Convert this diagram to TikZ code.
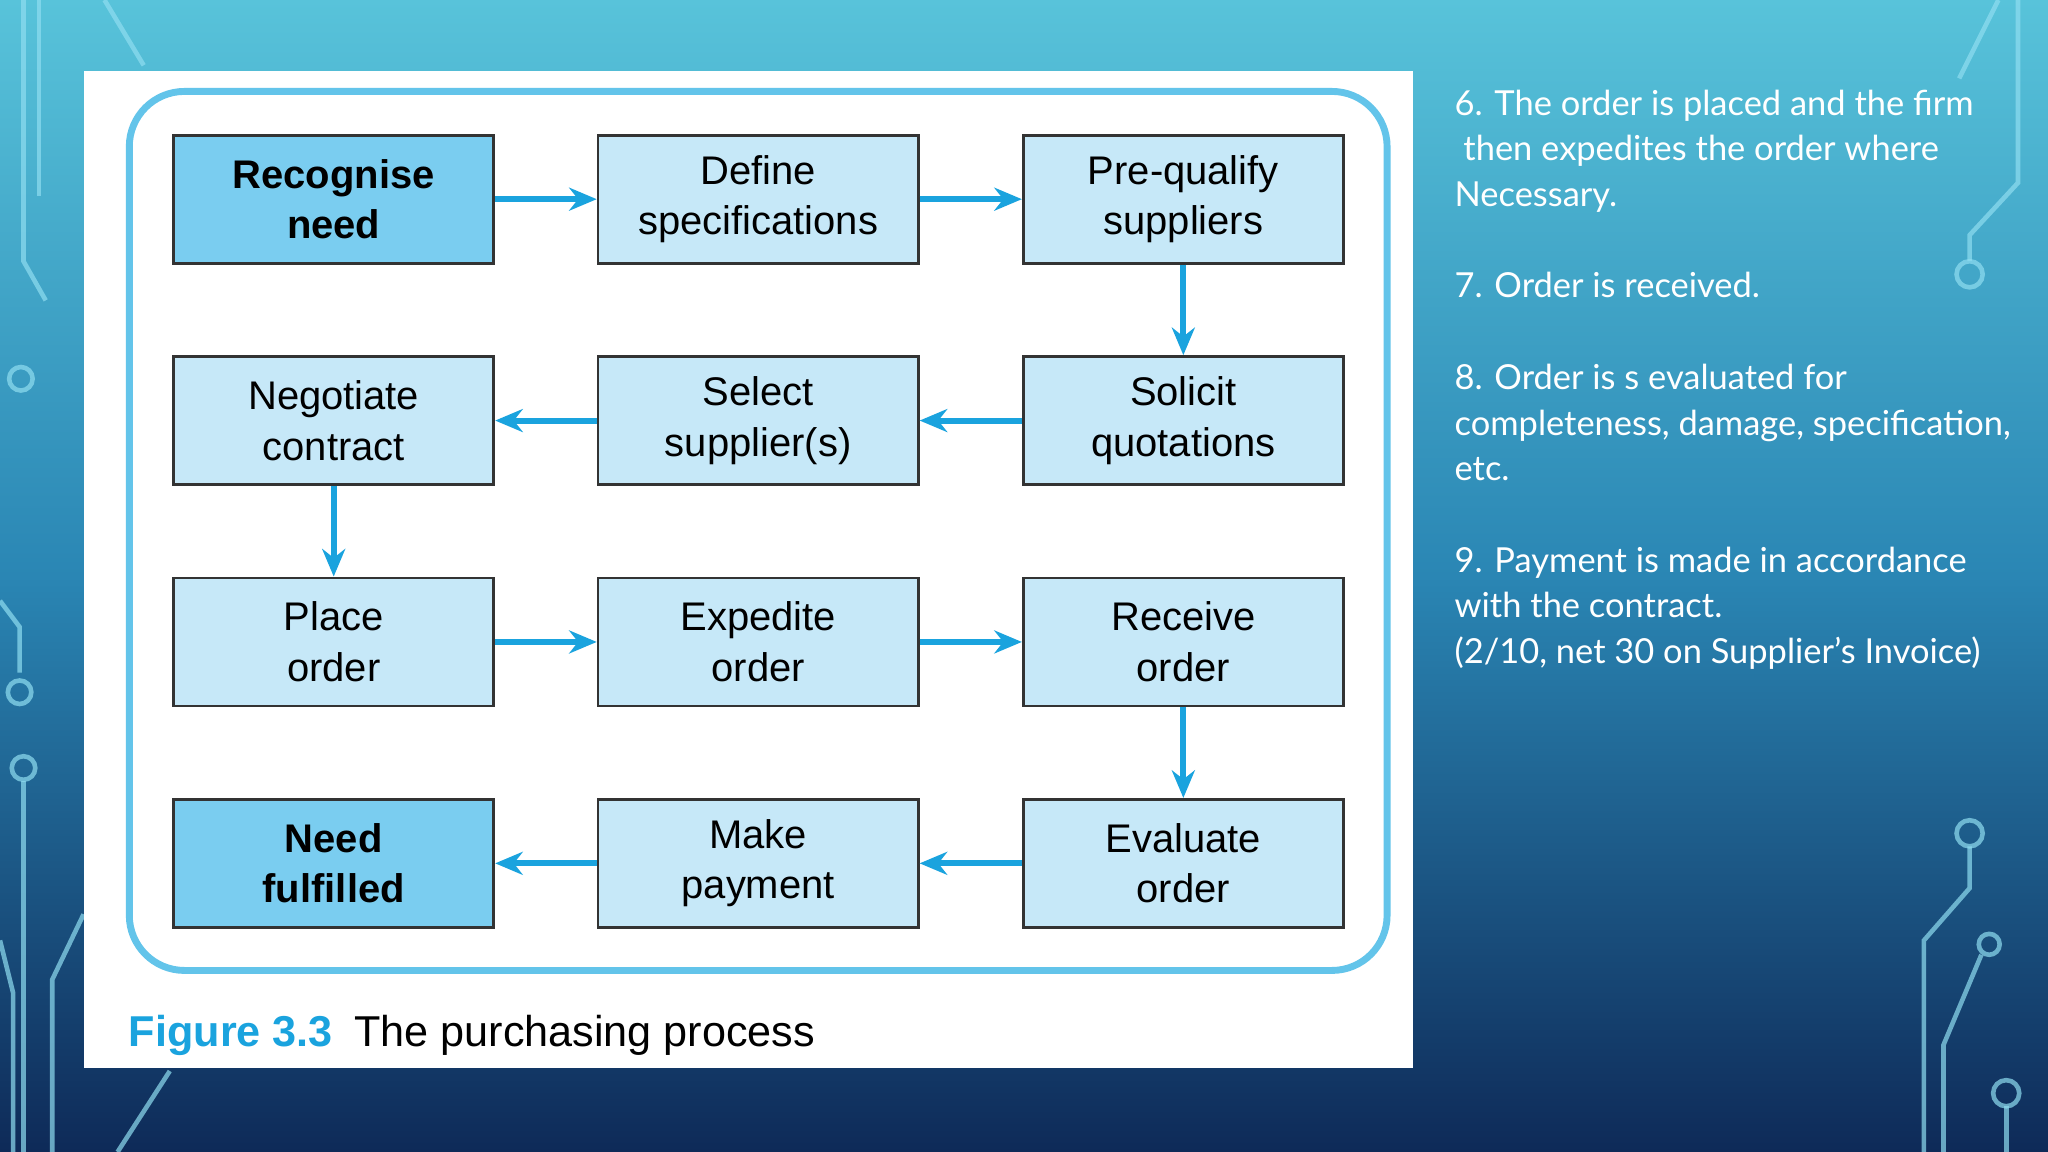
\documentclass[tikz,border=0pt]{standalone}
\usepackage{fontspec}
\setmainfont{Liberation Sans}
\newfontfamily\rfont{Lato}
\usetikzlibrary{arrows.meta}
\definecolor{bgtop}{HTML}{58C3DA}
\definecolor{bgmid}{HTML}{2A86B4}
\definecolor{bgbot}{HTML}{0E2A58}
\definecolor{lightbox}{HTML}{C6E8F8}
\definecolor{darkbox}{HTML}{7ACDF0}
\definecolor{arr}{HTML}{1AA3DE}
\definecolor{frame}{HTML}{63C4EA}
\definecolor{circ}{HTML}{8FDDF0}
\begin{document}
\begin{tikzpicture}[x=0.01cm,y=-0.01cm,
  pbox/.style={draw=black!80,line width=0.6pt,fill=lightbox,minimum width=2.45cm,minimum height=0.98cm,align=center,font=\fontsize{8.7}{11}\selectfont},
  bbox/.style={pbox,fill=darkbox,font=\fontsize{8.7}{11}\selectfont\bfseries},
  conn/.style={draw=arr,line width=1.3pt,-{Stealth[length=6pt,width=5pt]}},
  deco/.style={draw=circ,line width=1pt,opacity=0.7}]
\useasboundingbox (0,0) rectangle (1568,882);
\shade[top color=bgtop,bottom color=bgbot,middle color=bgmid] (0,0) rectangle (1568,882);
% decorative circuit lines
\draw[deco] (18,0) -- (18,200) -- (35,230);
\draw[deco] (30,0) -- (30,150);
\draw[deco] (0,460) -- (15,480) -- (15,515);
\draw[deco] (15,530) circle (9);
\draw[deco] (18,588) circle (9);
\draw[deco] (18,598) -- (18,882);
\draw[deco] (0,720) -- (10,760) -- (10,882);
\draw[deco] (40,882) -- (40,750) -- (64,700);
\draw[deco] (16,290) circle (9);
\draw[deco] (80,0) -- (110,50);
\draw[deco] (1508,210) circle (10);
\draw[deco] (1508,200) -- (1508,180) -- (1545,140) -- (1545,0);
\draw[deco] (1500,60) -- (1530,0);
\draw[deco] (1508,638) circle (10);
\draw[deco] (1508,648) -- (1508,680) -- (1473,720) -- (1473,882);
\draw[deco] (1523,723) circle (8);
\draw[deco] (1517,731) -- (1488,800) -- (1488,882);
\draw[deco] (1536,837) circle (10);
\draw[deco] (1536,847) -- (1536,882);
\draw[deco] (90,882) -- (130,820);
% panel
\fill[white] (64,54) rectangle (1082,818);
\draw[frame,line width=1.5pt,rounded corners=12] (99,70) rectangle (1062,743);
\node[bbox] (a1) at (255.5,152.5) {Recognise\\need};
\node[pbox] (a2) at (580.5,152.5) {Define\\specifications};
\node[pbox] (a3) at (906,152.5) {Pre-qualify\\suppliers};
\node[pbox] (b3) at (906,322) {Solicit\\quotations};
\node[pbox] (b2) at (580.5,322) {Select\\supplier(s)};
\node[pbox] (b1) at (255.5,322) {Negotiate\\contract};
\node[pbox] (c1) at (255.5,491.5) {Place\\order};
\node[pbox] (c2) at (580.5,491.5) {Expedite\\order};
\node[pbox] (c3) at (906,491.5) {Receive\\order};
\node[pbox] (d3) at (906,661) {Evaluate\\order};
\node[pbox] (d2) at (580.5,661) {Make\\payment};
\node[bbox] (d1) at (255.5,661) {Need\\fulfilled};
\path[conn] (a1) -- (a2);
\path[conn] (a2) -- (a3);
\path[conn] (a3) -- (b3);
\path[conn] (b3) -- (b2);
\path[conn] (b2) -- (b1);
\path[conn] (b1) -- (c1);
\path[conn] (c1) -- (c2);
\path[conn] (c2) -- (c3);
\path[conn] (c3) -- (d3);
\path[conn] (d3) -- (d2);
\path[conn] (d2) -- (d1);
\node[anchor=base west,inner sep=0,font=\fontsize{9.4}{11}\selectfont] (cap) at (98,801) {\textcolor{arr}{\bfseries Figure 3.3}\hspace{0.5em}The purchasing process};
\node[anchor=north west,inner sep=0,text=white,align=left,font=\rfont\fontsize{7.5}{9.95}\selectfont] (txt) at (1113,68) {6. The order is placed and the firm\\\ then expedites the order where\\Necessary.\\[9.95pt]7. Order is received.\\[9.95pt]8. Order is s evaluated for\\completeness, damage, specification,\\etc.\\[9.95pt]9. Payment is made in accordance\\with the contract.\\(2/10, net 30 on Supplier’s Invoice)};
\end{tikzpicture}
\end{document}
